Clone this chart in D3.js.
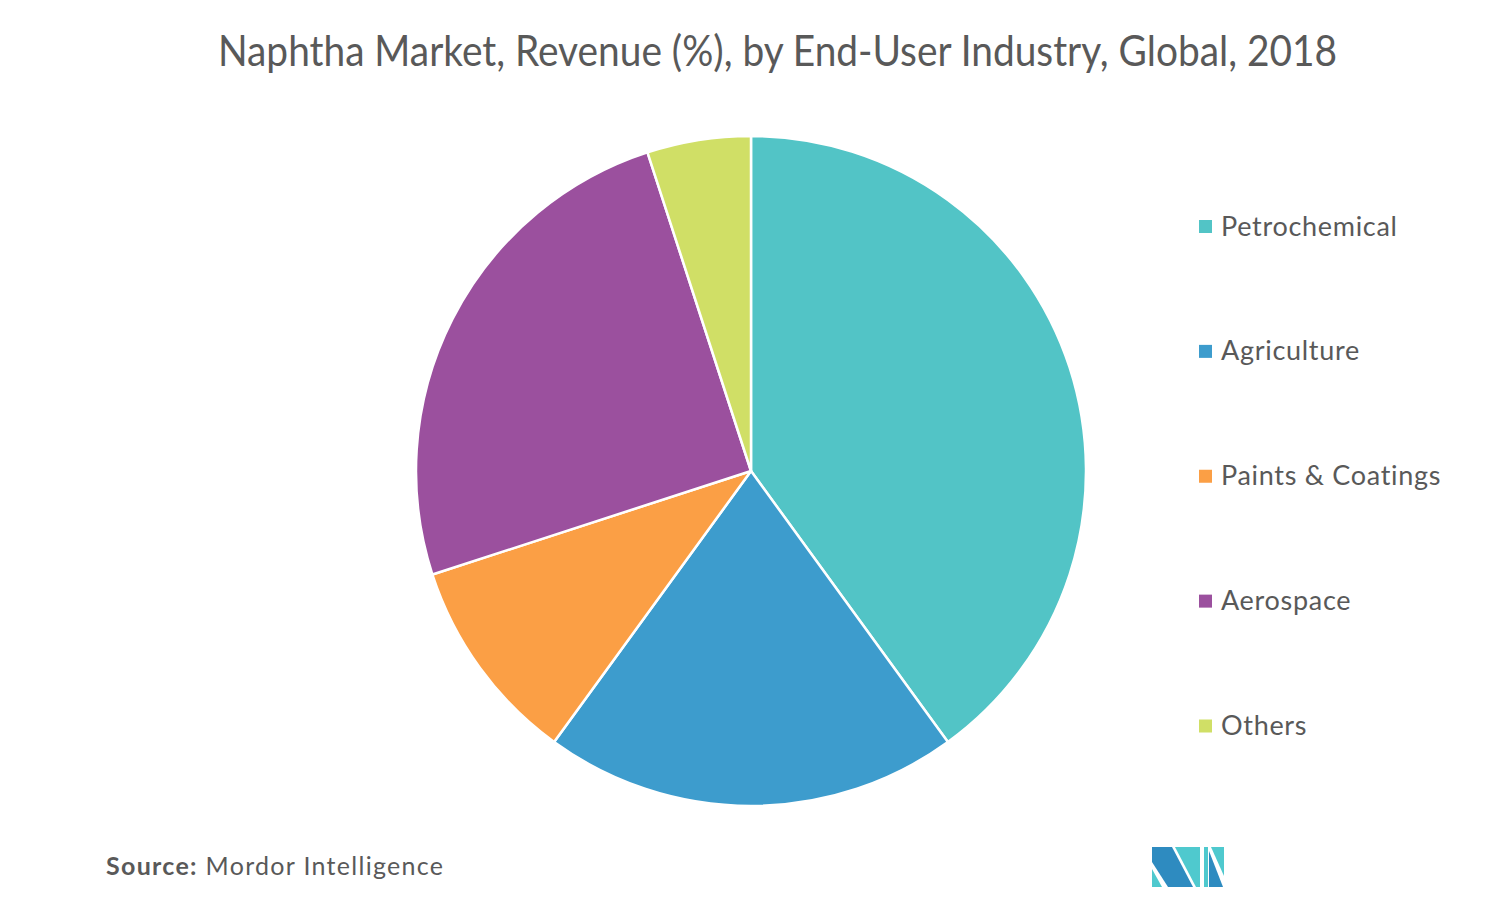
<!DOCTYPE html>
<html>
<head>
<meta charset="utf-8">
<script src="https://cdn.jsdelivr.net/npm/d3@7"></script>
<style>
  html, body { margin: 0; padding: 0; background: #ffffff; }
  svg { display: block; }
</style>
</head>
<body>
<svg id="chart" width="1489" height="902"></svg>
<script>
const title = "Naphtha Market, Revenue (%), by End-User Industry, Global, 2018";
const categories = ["Petrochemical", "Agriculture", "Paints & Coatings", "Aerospace", "Others"];
const values = [40, 20, 10, 25, 5];
const colors = ["#52C4C6", "#3D9CCD", "#FB9F45", "#9B509E", "#D0DF66"];

const svg = d3.select("#chart");
const textColor = "#595959";

// Title
svg.append("text")
  .attr("x", 218).attr("y", 66)
  .attr("font-family", "Lato, 'Open Sans', sans-serif")
  .attr("font-size", 42)
  .attr("fill", textColor)
  .attr("textLength", 1119)
  .attr("lengthAdjust", "spacingAndGlyphs")
  .text(title);

// Pie
const cx = 751, cy = 471, r = 335;
const pie = d3.pie().sort(null).value(d => d.v);
const arc = d3.arc().innerRadius(0).outerRadius(r);
const data = categories.map((c, i) => ({ c, v: values[i], col: colors[i] }));

svg.append("g")
  .attr("transform", `translate(${cx},${cy})`)
  .selectAll("path")
  .data(pie(data))
  .join("path")
  .attr("d", arc)
  .attr("fill", d => d.data.col)
  .attr("stroke", "#ffffff")
  .attr("stroke-width", 2.5)
  .attr("stroke-linejoin", "round");

// Legend
const legendY = d3.scalePoint().domain(categories).range([226.5, 726]);
const lg = svg.append("g");
const items = lg.selectAll("g").data(data).join("g")
  .attr("transform", d => `translate(1199,${legendY(d.c)})`);
items.append("rect")
  .attr("x", 0).attr("y", -6.5).attr("width", 13).attr("height", 13)
  .attr("fill", d => d.col);
items.append("text")
  .attr("x", 22).attr("y", 9)
  .attr("font-family", "Lato, 'Open Sans', sans-serif")
  .attr("font-size", 27)
  .attr("letter-spacing", 0.7)
  .attr("fill", textColor)
  .text(d => d.c);

// Source
const src = svg.append("text")
  .attr("x", 106).attr("y", 875)
  .attr("font-family", "Lato, 'Open Sans', sans-serif")
  .attr("font-size", 25)
  .attr("letter-spacing", 1.3)
  .attr("fill", textColor);
src.append("tspan").attr("font-weight", "bold").text("Source:");
src.append("tspan").text(" Mordor Intelligence");

// Logo
const logo = svg.append("g");
const polys = [
  { pts: [[1152,847],[1172,847],[1193,887],[1168,887],[1152,862]], col: "#2E8BC0" },
  { pts: [[1152,869],[1152,887],[1162,887]], col: "#4FC9CE" },
  { pts: [[1175,847],[1200,847],[1200,887],[1196,887]], col: "#4FC9CE" },
  { pts: [[1204,847],[1208,847],[1208,887],[1204,887]], col: "#4FC9CE" },
  { pts: [[1211,847],[1224,847],[1224,876]], col: "#4FC9CE" },
  { pts: [[1209,851],[1223,887],[1209,887]], col: "#2E8BC0" }
];
logo.selectAll("polygon").data(polys).join("polygon")
  .attr("points", d => d.pts.map(p => p.join(",")).join(" "))
  .attr("fill", d => d.col);
</script>
</body>
</html>
